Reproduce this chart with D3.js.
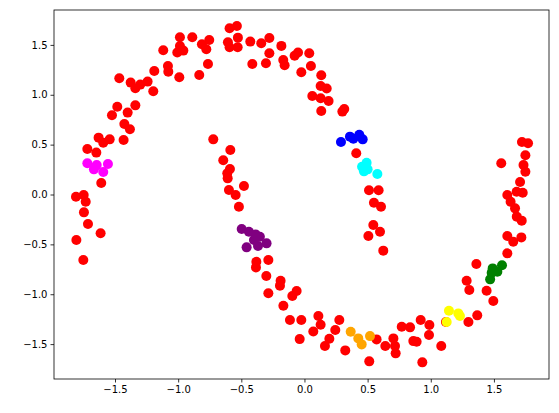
<!DOCTYPE html>
<html>
<head>
<meta charset="utf-8">
<script src="https://cdn.jsdelivr.net/npm/d3@7"></script>
<style>
body { margin: 0; background: #fff; }
text { font-family: "DejaVu Sans", sans-serif; }
</style>
</head>
<body>
<script>
var redPoints = [
  [-0.593,1.667],[-0.535,1.690],[-0.986,1.577],[-0.888,1.577],[-0.754,1.550],[-0.812,1.506],
  [-0.777,1.456],[-0.606,1.526],[-0.527,1.573],[-0.593,1.476],[-0.529,1.476],[-0.429,1.533],
  [-0.342,1.516],[-0.278,1.570],[-0.183,1.490],[-0.278,1.416],[-0.305,1.316],[-0.413,1.309],
  [-0.168,1.349],[-0.157,1.296],[-0.078,1.392],[-0.051,1.423],[-0.025,1.225],[-0.986,1.489],
  [-0.959,1.443],[-1.007,1.423],[-1.118,1.446],[-0.764,1.309],[-0.833,1.199],[-1.081,1.289],
  [-1.078,1.232],[-0.991,1.175],[-1.189,1.239],[-1.466,1.165],[-1.376,1.122],[-1.339,1.065],
  [-1.300,1.102],[-1.242,1.132],[-1.197,1.035],[-1.339,0.894],[-1.482,0.880],[-1.524,0.794],
  [-1.400,0.821],[-1.426,0.707],[-1.382,0.654],[-1.432,0.547],[-1.630,0.570],[-1.593,0.520],
  [-1.542,0.553],[-1.719,0.456],[-1.648,0.420],[-1.609,0.115],[-1.809,-0.022],[-1.748,-0.005],
  [-0.722,0.553],[-0.587,0.446],[-0.643,0.343],[-0.590,0.256],[-0.611,0.212],[-0.608,0.162],
  [-0.479,0.085],[-0.598,0.045],[-0.545,-0.005],
  [0.038,1.416],[0.051,1.289],[0.133,1.195],[0.128,1.088],[0.176,1.062],[0.062,0.988],
  [0.128,0.965],[0.191,0.938],[0.133,0.837],[0.300,0.831],[0.315,0.858],[0.410,0.413],
  [0.511,0.042],[0.587,0.042],
  [1.722,0.526],[1.770,0.513],[1.749,0.393],[1.558,0.313],[1.734,0.296],[1.749,0.229],
  [1.707,0.125],[1.680,0.028],[1.728,0.018],[1.606,-0.005],
  [-1.732,-0.072],[-1.746,-0.179],[-1.714,-0.296],[-1.614,-0.389],[-1.806,-0.456],[-1.751,-0.657],
  [-0.519,-0.122],
  [-0.286,-0.657],[-0.381,-0.674],[-0.384,-0.731],[-0.302,-0.818],[-0.189,-0.864],[-0.194,-0.914],
  [-0.286,-0.991],[-0.062,-0.968],[-0.096,-1.018],[-0.167,-1.115],[-0.115,-1.259],[-0.025,-1.259],
  [-0.038,-1.450],
  [0.550,-0.082],[0.606,-0.122],[0.545,-0.306],[0.598,-0.373],[0.506,-0.416],[0.624,-0.563],
  [1.632,-0.072],[1.667,-0.139],[1.681,-0.222],[1.720,-0.262],[1.606,-0.416],[1.653,-0.473],
  [1.717,-0.430],[1.606,-0.590],[1.361,-0.697],[1.284,-0.864],[1.305,-0.958],[1.442,-0.965],
  [1.495,-1.068],[1.368,-1.212],[1.298,-1.279],[1.120,-1.279],
  [0.110,-1.219],[0.128,-1.306],[0.070,-1.373],[0.276,-1.259],[0.244,-1.359],[0.197,-1.446],
  [0.162,-1.520],[0.323,-1.563],[0.571,-1.453],[0.513,-1.673],[0.640,-1.520],[0.704,-1.443],
  [0.717,-1.520],[0.722,-1.593],[0.770,-1.326],[0.836,-1.332],[0.862,-1.470],[0.888,-1.477],
  [0.920,-1.259],[0.989,-1.309],[0.986,-1.409],[0.933,-1.683],[1.083,-1.520]
];
var magentaPoints = [[-1.719,0.313],[-1.645,0.296],[-1.667,0.252],[-1.593,0.226],[-1.556,0.306]];
var bluePoints = [[0.289,0.526],[0.360,0.580],[0.434,0.600],[0.461,0.553],[0.387,0.560]];
var cyanPoints = [[0.492,0.319],[0.456,0.279],[0.471,0.232],[0.500,0.252],[0.577,0.206]];
var purplePoints = [[-0.497,-0.346],[-0.440,-0.373],[-0.387,-0.400],[-0.353,-0.423],[-0.400,-0.456],
  [-0.300,-0.490],[-0.458,-0.530],[-0.368,-0.517]];
var orangePoints = [[0.366,-1.376],[0.426,-1.443],[0.453,-1.503],[0.519,-1.420]];
var yellowPoints = [[1.144,-1.165],[1.218,-1.192],[1.231,-1.219],[1.126,-1.279]];
var greenPoints = [[1.564,-0.710],[1.490,-0.741],[1.527,-0.774],[1.482,-0.784],[1.470,-0.851]];
var ticks = [-1.5, -1.0, -0.5, 0.0, 0.5, 1.0, 1.5];

var groups = [
  { pts: redPoints, color: "red" },
  { pts: magentaPoints, color: "magenta" },
  { pts: bluePoints, color: "blue" },
  { pts: cyanPoints, color: "cyan" },
  { pts: purplePoints, color: "purple" },
  { pts: orangePoints, color: "orange" },
  { pts: yellowPoints, color: "yellow" },
  { pts: greenPoints, color: "green" }
];

var width = 559, height = 413;
var mLeft = 54, mRight = 549, mTop = 10, mBottom = 379;

var x = d3.scaleLinear().domain([-1.983, 1.936]).range([mLeft, mRight]);
var y = d3.scaleLinear().domain([-1.85, 1.85]).range([mBottom, mTop]);

var svg = d3.select("body").append("svg")
  .attr("width", width).attr("height", height);

groups.forEach(function(g) {
  svg.append("g").selectAll("circle")
    .data(g.pts)
    .enter().append("circle")
    .attr("cx", function(d) { return x(d[0]); })
    .attr("cy", function(d) { return y(d[1]); })
    .attr("r", 5)
    .attr("fill", g.color);
});

var fmt = function(d) { return d.toFixed(1).replace("-", "\u2212"); };

var xAxis = svg.append("g")
  .attr("transform", "translate(0," + mBottom + ")")
  .call(d3.axisBottom(x).tickValues(ticks).tickFormat(fmt).tickSize(3.5).tickSizeOuter(0));
var yAxis = svg.append("g")
  .attr("transform", "translate(" + mLeft + ",0)")
  .call(d3.axisLeft(y).tickValues(ticks).tickFormat(fmt).tickSize(3.5).tickSizeOuter(0));

[xAxis, yAxis].forEach(function(a) {
  a.select(".domain").remove();
  a.selectAll("text").attr("font-size", "10px").attr("fill", "#000")
    .style("font-family", "DejaVu Sans, sans-serif");
  a.selectAll("line").attr("stroke", "#000").attr("stroke-width", 0.8);
});

svg.append("rect")
  .attr("x", mLeft).attr("y", mTop)
  .attr("width", mRight - mLeft).attr("height", mBottom - mTop)
  .attr("fill", "none").attr("stroke", "#000").attr("stroke-width", 0.8);
</script>
</body>
</html>
